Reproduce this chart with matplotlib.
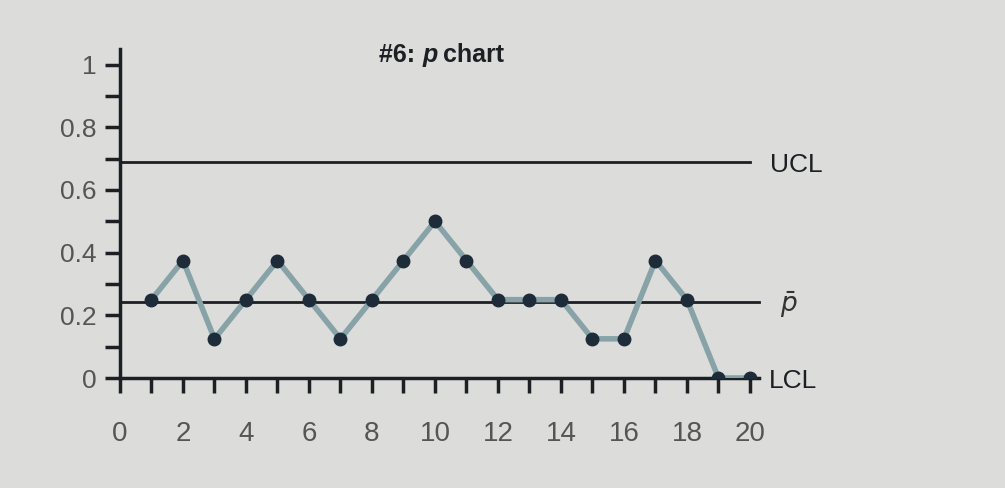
import matplotlib
matplotlib.use("Agg")
import matplotlib.pyplot as plt
from matplotlib import font_manager as fm

samples = list(range(1, 21))
p_values = [0.25, 0.375, 0.125, 0.25, 0.375, 0.25, 0.125, 0.25, 0.375, 0.5,
            0.375, 0.25, 0.25, 0.25, 0.125, 0.125, 0.375, 0.25, 0.0, 0.0]
p_bar = 0.24375
ucl = 0.69
lcl = 0.0
x_ticks = list(range(0, 21))
x_labels = [str(v) if v % 2 == 0 else "" for v in x_ticks]
y_ticks = [i / 10 for i in range(0, 11)]
y_labels = ["0", "", "0.2", "", "0.4", "", "0.6", "", "0.8", "", "1"]

names = {f.name for f in fm.fontManager.ttflist}
fam = "Liberation Sans Narrow" if "Liberation Sans Narrow" in names else "Liberation Sans"
plt.rcParams['font.family'] = [fam, 'DejaVu Sans']

bg = "#dcdcdb"
fig = plt.figure(figsize=(10.05, 4.88), dpi=100, facecolor=bg)
ax = fig.add_axes([0.1194, 0.2254, 0.7522, 0.6742], facecolor=bg)

dark = "#1c1f24"
ax.axhline(ucl, xmin=0, xmax=20 / 24, color=dark, lw=2.0)
ax.axhline(p_bar, xmin=0, xmax=20.3 / 24, color=dark, lw=2.0)
ax.plot(samples, p_values, color="#87a3a8", lw=4, zorder=3,
        marker="o", markersize=9, markerfacecolor="#1e2c3a", markeredgecolor="#1e2c3a")

ax.text(20.65, ucl - 0.01, "UCL", fontsize=19, color=dark, va="center", ha="left")
ax.text(20.95, p_bar - 0.01, r"$\bar{p}$", fontsize=19, color="#333", va="center", ha="left")
ax.text(20.6, lcl - 0.01, "LCL", fontsize=19, color=dark, va="center", ha="left")
ax.text(9.6, 1.03, "#6: ", fontsize=18, color=dark, ha="right", va="center", weight="bold")
ax.text(9.6, 1.03, "p", fontsize=18, color=dark, ha="left", va="center", weight="bold", style="italic")
ax.text(10.03, 1.03, " chart", fontsize=18, color=dark, ha="left", va="center", weight="bold")

ax.set_xlim(0, 24)
ax.set_ylim(0, 1.05)
for s in ["top", "right"]:
    ax.spines[s].set_visible(False)
ax.spines["left"].set_linewidth(2.5)
ax.spines["bottom"].set_linewidth(2.5)
ax.spines["bottom"].set_bounds(0, 20.3)
ax.spines["left"].set_color(dark)
ax.spines["bottom"].set_color(dark)
ax.set_xticks(x_ticks)
ax.set_xticklabels(x_labels)
ax.set_yticks(y_ticks)
ax.set_yticklabels(y_labels)
ax.tick_params(axis="x", direction="out", length=11, width=2.5, color=dark,
               labelsize=20, labelcolor="#555", pad=20)
ax.tick_params(axis="y", direction="out", length=11, width=2.5, color=dark,
               labelsize=19, labelcolor="#555", pad=6)

fig.savefig("out.png", dpi=100, facecolor=bg)
